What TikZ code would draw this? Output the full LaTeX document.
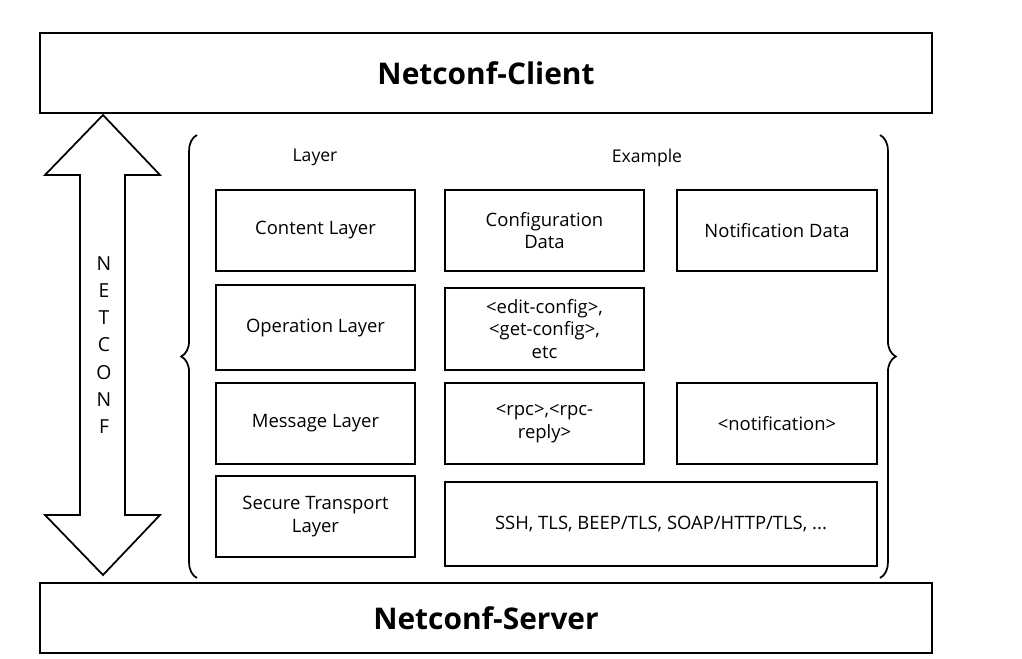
\documentclass[tikz,border=0pt]{standalone}
\usepackage{fontspec}
\setmainfont{Open Sans}
\usetikzlibrary{positioning,decorations.pathreplacing}
\tikzset{
  box/.style={draw, line width=1.2pt, align=center, inner sep=2pt,
    font=\fontsize{10.5}{13}\selectfont},
  title/.style={draw, line width=1.2pt, font=\fontsize{17}{20}\selectfont\bfseries},
  head/.style={font=\fontsize{10}{12}\selectfont},
  brc/.style={line width=1pt, decorate, decoration={brace, amplitude=9pt}},
}
\begin{document}
\begin{tikzpicture}[x=0.02cm, y=-0.02cm]
\useasboundingbox (0,0) rectangle (1022,659);

%--- client and server ---
\node[title, minimum width=892*0.02cm, minimum height=80*0.02cm] (client) at (486,73) {Netconf-Client};
\node[title, minimum width=892*0.02cm, minimum height=70*0.02cm] (server) at (486,618) {Netconf-Server};

%--- double arrow ---
\draw[line width=1pt] (103,115) -- (160,175) -- (125,175) -- (125,515) -- (160,515)
  -- (103,575) -- (45,515) -- (80,515) -- (80,175) -- (45,175) -- cycle;
\node[head, align=center, font=\fontsize{11}{15.5}\selectfont] (nc) at (104,345) {N\\E\\T\\C\\O\\N\\F};

%--- braces ---
\draw[brc] (197,578) -- (197,135);
\draw[brc] (880,135) -- (880,578);

%--- headers ---
\node[head] (hlayer) at (315,157) {Layer};
\node[head] (hex) at (647,158) {Example};

%--- layers ---
\node[box, minimum width=199*0.02cm, minimum height=81*0.02cm] (content) at (315.5,230.5) {Content Layer};
\node[box, minimum width=199*0.02cm, minimum height=85*0.02cm] (oper) at (315.5,327.5) {Operation Layer};
\node[box, minimum width=199*0.02cm, minimum height=81*0.02cm] (msg) at (315.5,423.5) {Message Layer};
\node[box, minimum width=199*0.02cm, minimum height=81*0.02cm] (sec) at (315.5,516.5) {Secure Transport\\Layer};

%--- examples ---
\node[box, minimum width=199*0.02cm, minimum height=81*0.02cm] (cfg) at (544.5,230.5) {Configuration\\Data};
\node[box, minimum width=200*0.02cm, minimum height=81*0.02cm] (notif) at (777,230.5) {Notification Data};
\node[box, minimum width=199*0.02cm, minimum height=82*0.02cm] (edit) at (544.5,329) {<edit-config>,\\<get-config>,\\etc};
\node[box, minimum width=199*0.02cm, minimum height=81*0.02cm] (rpc) at (544.5,423.5) {<rpc>,<rpc-\\reply>};
\node[box, minimum width=200*0.02cm, minimum height=81*0.02cm] (notel) at (777,423.5) {<notification>};
\node[box, minimum width=432*0.02cm, minimum height=84*0.02cm] (ssh) at (661,524) {SSH, TLS, BEEP/TLS, SOAP/HTTP/TLS, ...};
\end{tikzpicture}
\end{document}
